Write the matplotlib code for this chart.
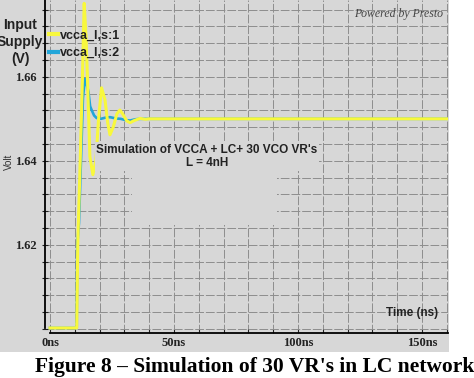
import matplotlib
matplotlib.use("Agg")
import matplotlib.pyplot as plt
from matplotlib.patches import Rectangle
from matplotlib.ticker import MultipleLocator, FixedLocator

# vcca_l,s:1 (yellow)
t1 = [0, 10.8, 11.2, 12.2, 13.1, 13.8, 14.5, 15.1, 16.1, 17.3, 18.5, 19.6, 20.8,
      22.2, 23.3, 24.2, 25.5, 27.0, 28.2, 29.5, 31.0, 32.3, 34.0, 36.3, 38.5, 40.0, 160]
v1 = [1.6002, 1.6002, 1.620, 1.640, 1.660, 1.6775, 1.670, 1.660, 1.641, 1.6367, 1.640,
      1.650, 1.6574, 1.6545, 1.649, 1.6462, 1.648, 1.6512, 1.6521, 1.651, 1.6495, 1.6491,
      1.6496, 1.6501, 1.6499, 1.650, 1.650]

# vcca_l,s:2 (blue)
t2 = [0, 10.8, 11.0, 11.7, 12.5, 13.3, 14.1, 14.7, 15.5, 16.2, 16.8, 17.8, 18.8,
      20.5, 22.5, 24.2, 26.5, 28.5, 30.5, 32.3, 34.5, 36.3, 160]
v2 = [1.6002, 1.6002, 1.620, 1.6252, 1.640, 1.655, 1.6595, 1.6585, 1.6565, 1.653,
      1.6521, 1.6508, 1.6502, 1.6500, 1.6503, 1.6504, 1.6501, 1.6500, 1.6497, 1.6496,
      1.6499, 1.6500, 1.6500]

labels = ['vcca_l,s:1', 'vcca_l,s:2']
xticks = [0, 50, 100, 150]
xticklabels = ['0ns', '50ns', '100ns', '150ns']
yticks = [1.62, 1.64, 1.66]

bg = '#d7d7d7'
W, H = 474, 378

fig = plt.figure(figsize=(4.74, 3.78), dpi=100)
fig.patch.set_facecolor('white')
fig.add_artist(Rectangle((0, 1 - 352 / H), 449 / W, 352 / H, transform=fig.transFigure,
                         facecolor=bg, edgecolor='none', zorder=-10))

ax = fig.add_axes([45 / W, 1 - 333 / H, 403 / W, 333 / H])
ax.set_facecolor(bg)
ax.set_xlim(-2, 160.5)
ax.set_ylim(1.5990, 1.6783)

l2, = ax.plot(t2, v2, color='#22a6d9', lw=1.9, label=labels[1], zorder=3)
l1, = ax.plot(t1, v1, color='#f8f83c', lw=2.2, label=labels[0], zorder=4)

# grid
ax.xaxis.set_major_locator(FixedLocator(xticks))
ax.xaxis.set_minor_locator(MultipleLocator(10))
ax.yaxis.set_major_locator(FixedLocator(yticks))
ax.yaxis.set_minor_locator(MultipleLocator(0.004))
ax.set_xticklabels(xticklabels)
ax.set_yticklabels(['%.2f' % y for y in yticks])
ax.grid(which='both', color='#8d8d8d', lw=0.7, linestyle=(0, (9, 2)), zorder=1)
ax.set_axisbelow(True)

for s in ['top', 'right']:
    ax.spines[s].set_visible(False)
ax.spines['left'].set_bounds(1.6003, 1.6783)
ax.spines['bottom'].set_bounds(0, 160.5)
ax.spines['left'].set_linewidth(1.3)
ax.spines['bottom'].set_linewidth(1.3)

ax.tick_params(axis='both', which='both', direction='in', length=3, width=0.8, color='#222')
ax.tick_params(axis='y', which='both', direction='inout', length=4, pad=4)
ax.tick_params(axis='x', which='major', pad=3)
for lab in ax.get_xticklabels() + ax.get_yticklabels():
    lab.set_fontfamily('Liberation Serif')
    lab.set_fontweight('bold')
    lab.set_fontsize(9)
    lab.set_color('#222')

# blank patch over grid (as in the original screenshot)
ax.add_patch(Rectangle((0.216, 0.325), 0.36, 0.16, transform=ax.transAxes,
                       facecolor=bg, edgecolor='none', zorder=2))

leg = ax.legend([l1, l2], labels, loc='upper left', bbox_to_anchor=(0.01, 0.912),
                frameon=False, handlelength=0.7, handletextpad=0.2, labelspacing=0.45,
                borderpad=0, borderaxespad=0,
                prop={'family': 'Liberation Sans', 'weight': 'bold', 'size': 9})
for h in leg.get_lines():
    h.set_linewidth(3)
for txt in leg.get_texts():
    txt.set_color('#222')

ax.text(0.402, 0.53, "Simulation of VCCA + LC+ 30 VCO VR's\nL = 4nH",
        transform=ax.transAxes, ha='center', va='center', multialignment='center',
        fontfamily='Liberation Sans', fontweight='bold', fontsize=8.5, color='#222',
        linespacing=1.15, zorder=5,
        bbox=dict(facecolor=bg, edgecolor='none', pad=1))
ax.text(0.976, 0.06, 'Time (ns)', transform=ax.transAxes, ha='right', va='center',
        fontfamily='Liberation Sans', fontweight='bold', fontsize=8.5, color='#222')

fig.text(20 / W, 1 - 42 / H, 'Input\nSupply\n(V)', ha='center', va='center',
         fontfamily='Liberation Sans', fontweight='bold', fontsize=10, color='#222',
         linespacing=1.25)
fig.text(9 / W, 1 - 162 / H, 'Volt', rotation=90, ha='center', va='center',
         fontfamily='Liberation Sans', fontsize=7, color='#333')
fig.text(443 / W, 1 - 14 / H, 'Powered by Presto', ha='right', va='center',
         fontfamily='Liberation Serif', style='italic', fontsize=8.5, color='#444')
fig.text(35 / W, 1 - 367 / H, "Figure 8 \u2013 Simulation of 30 VR's in LC network",
         ha='left', va='center', fontfamily='Liberation Serif', fontweight='bold',
         fontsize=15.5, color='black')

fig.savefig('out.png', dpi=100)
